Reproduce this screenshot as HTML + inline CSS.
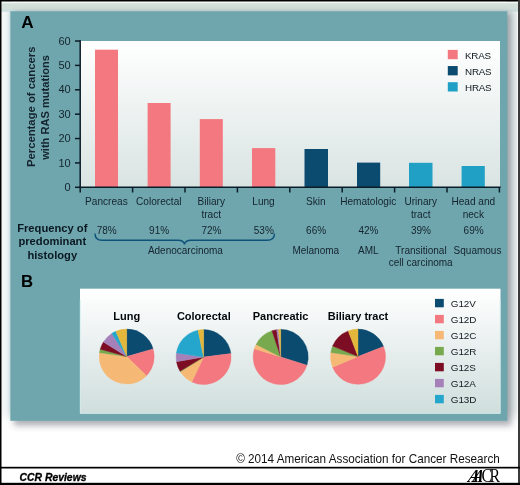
<!DOCTYPE html>
<html><head><meta charset="utf-8"><title>RAS mutations</title>
<style>
html,body{margin:0;padding:0;background:#fff;}
body{width:520px;height:485px;position:relative;overflow:hidden;}
#frame{position:absolute;left:0;top:0;width:520px;height:485px;box-sizing:border-box;border-style:solid;border-color:#000 #333 #000 #000;border-width:1.5px 1.9px 2.3px 1.5px;background:#fff;}
#topstrip{position:absolute;left:2px;top:2.5px;width:516px;height:9px;background:#d4e1da;}
#panel{position:absolute;left:10.3px;top:11.2px;width:497px;height:409.7px;background:#6fa6ae;box-shadow:2.5px 3px 7px rgba(40,50,60,0.55);}
#rule{position:absolute;left:0;top:466.7px;width:520px;height:1.8px;background:#000;}
</style></head><body>
<svg width="520" height="485" viewBox="0 0 520 485" style="position:absolute;left:0;top:0">
<defs>
<linearGradient id="pg" x1="0" y1="0" x2="0" y2="1"><stop offset="0" stop-color="#ffffff"/><stop offset="1" stop-color="#d9e4e2"/></linearGradient>
<linearGradient id="pg2" x1="0" y1="0" x2="0" y2="1"><stop offset="0" stop-color="#ffffff"/><stop offset="1" stop-color="#cfdedc"/></linearGradient>
<linearGradient id="rt" x1="0" y1="0" x2="1" y2="0"><stop offset="0" stop-color="#dde5e3"/><stop offset="0.85" stop-color="#e6edeb"/><stop offset="1" stop-color="#ffffff"/></linearGradient>
<linearGradient id="lt" x1="0" y1="0" x2="1" y2="0"><stop offset="0" stop-color="#f4f7f7"/><stop offset="0.6" stop-color="#eef3f3"/><stop offset="1" stop-color="#cfe4e7"/></linearGradient>
<filter id="blur" x="-5%" y="-5%" width="110%" height="110%"><feGaussianBlur stdDeviation="3.4"/></filter>
<filter id="blury" x="-5%" y="-5%" width="110%" height="110%"><feGaussianBlur stdDeviation="0 4"/></filter>
</defs>
<rect x="0" y="0" width="520" height="485" fill="#fff"/>
<rect x="507" y="-10" width="11" height="426" fill="url(#rt)" filter="url(#blury)"/>
<rect x="1.5" y="-10" width="9" height="427" fill="url(#lt)" filter="url(#blury)"/>
<rect x="1.5" y="2.6" width="516.5" height="8.8" fill="#d4e1da"/>
<rect x="1.5" y="2" width="516.5" height="1.2" fill="#f4f8f6"/>
<rect x="1.5" y="9.6" width="516.5" height="1.8" fill="#cbdee0"/>
<rect x="14" y="12.5" width="497.5" height="413" fill="#464b5c" fill-opacity="0.45" filter="url(#blur)"/>
<rect x="10.3" y="11.2" width="497" height="409.6" fill="#6fa6ae"/>
<rect x="0" y="0" width="1.5" height="485" fill="#000"/>
<rect x="0" y="0" width="520" height="1.5" fill="#000"/>
<rect x="518" y="0" width="2" height="485" fill="#3a3a3a"/>
<rect x="0" y="482.8" width="520" height="2.2" fill="#000"/>
<rect x="0" y="466.8" width="520" height="1.7" fill="#000"/>
<rect x="80" y="41" width="420" height="146.5" fill="url(#pg)"/>
<rect x="95" y="49.7" width="23" height="137.3" fill="#f3787f"/>
<rect x="147.6" y="103" width="23.0" height="84" fill="#f3787f"/>
<rect x="199.8" y="119.1" width="23.0" height="67.9" fill="#f3787f"/>
<rect x="252" y="148.1" width="23.30000000000001" height="38.900000000000006" fill="#f3787f"/>
<rect x="304.5" y="149" width="23.5" height="38" fill="#0c4b70"/>
<rect x="357" y="162.6" width="23.19999999999999" height="24.400000000000006" fill="#0c4b70"/>
<rect x="409" y="162.8" width="23.5" height="24.19999999999999" fill="#21a0c6"/>
<rect x="461.6" y="166" width="23.19999999999999" height="21" fill="#21a0c6"/>
<g stroke="#0a1c28" stroke-width="1.5" fill="none">
<path d="M80.2,40.3 V192.5"/>
<path d="M79.5,187.3 H500.7"/>
<path d="M75,187.30 H80.2"/>
<path d="M75,162.92 H80.2"/>
<path d="M75,138.54 H80.2"/>
<path d="M75,114.16 H80.2"/>
<path d="M75,89.78 H80.2"/>
<path d="M75,65.40 H80.2"/>
<path d="M75,41.02 H80.2"/>
<path d="M132.60,187.3 V192.5"/>
<path d="M185.00,187.3 V192.5"/>
<path d="M237.40,187.3 V192.5"/>
<path d="M289.80,187.3 V192.5"/>
<path d="M342.20,187.3 V192.5"/>
<path d="M394.60,187.3 V192.5"/>
<path d="M447.00,187.3 V192.5"/>
<path d="M499.40,187.3 V192.5"/>
</g>
<g font-family="Liberation Sans, Arial, sans-serif" fill="#14232e">
<text x="21.2" y="27.7" font-size="17.2" font-weight="bold" fill="#000">A</text>
<text x="21.0" y="286.8" font-size="16.8" font-weight="bold" fill="#000">B</text>
<text x="70.7" y="191.00" font-size="11" text-anchor="end">0</text>
<text x="70.7" y="166.62" font-size="11" text-anchor="end">10</text>
<text x="70.7" y="142.24" font-size="11" text-anchor="end">20</text>
<text x="70.7" y="117.86" font-size="11" text-anchor="end">30</text>
<text x="70.7" y="93.48" font-size="11" text-anchor="end">40</text>
<text x="70.7" y="69.10" font-size="11" text-anchor="end">50</text>
<text x="70.7" y="44.72" font-size="11" text-anchor="end">60</text>
<text transform="translate(35.1,106.8) rotate(-90)" font-size="11.3" font-weight="bold" text-anchor="middle">Percentage of cancers</text>
<text transform="translate(49.3,107.4) rotate(-90)" font-size="11.1" font-weight="bold" text-anchor="middle">with RAS mutations</text>
<text x="106.4" y="205.1" font-size="10.1" text-anchor="middle">Pancreas</text>
<text x="158.8" y="205.1" font-size="10.1" text-anchor="middle">Colorectal</text>
<text x="211.2" y="205.1" font-size="10.1" text-anchor="middle">Biliary</text>
<text x="211.2" y="217.8" font-size="10.1" text-anchor="middle">tract</text>
<text x="263.5" y="205.1" font-size="10.1" text-anchor="middle">Lung</text>
<text x="315.8" y="205.1" font-size="10.1" text-anchor="middle">Skin</text>
<text x="368.2" y="205.1" font-size="10.1" text-anchor="middle">Hematologic</text>
<text x="420.7" y="205.1" font-size="10.1" text-anchor="middle">Urinary</text>
<text x="420.7" y="217.8" font-size="10.1" text-anchor="middle">tract</text>
<text x="473.3" y="205.1" font-size="10.1" text-anchor="middle">Head and</text>
<text x="473.3" y="217.8" font-size="10.1" text-anchor="middle">neck</text>
<text x="106.7" y="233.5" font-size="10" text-anchor="middle">78%</text>
<text x="159.10000000000002" y="233.5" font-size="10" text-anchor="middle">91%</text>
<text x="211.5" y="233.5" font-size="10" text-anchor="middle">72%</text>
<text x="263.8" y="233.5" font-size="10" text-anchor="middle">53%</text>
<text x="316.1" y="233.5" font-size="10" text-anchor="middle">66%</text>
<text x="368.5" y="233.5" font-size="10" text-anchor="middle">42%</text>
<text x="421.0" y="233.5" font-size="10" text-anchor="middle">39%</text>
<text x="473.6" y="233.5" font-size="10" text-anchor="middle">69%</text>
<text x="185.4" y="254.2" font-size="10" text-anchor="middle">Adenocarcinoma</text>
<text x="315.8" y="254.2" font-size="10" text-anchor="middle">Melanoma</text>
<text x="368.4" y="254.2" font-size="10" text-anchor="middle">AML</text>
<text x="421" y="254.2" font-size="10" text-anchor="middle">Transitional</text>
<text x="420.7" y="266.3" font-size="10" text-anchor="middle">cell carcinoma</text>
<text x="477.5" y="254.2" font-size="10" text-anchor="middle">Squamous</text>
<text x="52.3" y="231.9" font-size="11.2" font-weight="bold" text-anchor="middle" fill="#0b1821">Frequency of</text>
<text x="52.3" y="245.4" font-size="11.2" font-weight="bold" text-anchor="middle" fill="#0b1821">predominant</text>
<text x="52.3" y="258.9" font-size="11.2" font-weight="bold" text-anchor="middle" fill="#0b1821">histology</text>
<rect x="447.8" y="49.90" width="9.9" height="9.3" fill="#f3787f"/>
<text x="465" y="58.60" font-size="9.8" letter-spacing="-0.2" fill="#10191f">KRAS</text>
<rect x="447.8" y="66.05" width="9.9" height="9.3" fill="#0c4b70"/>
<text x="465" y="74.75" font-size="9.8" letter-spacing="-0.2" fill="#10191f">NRAS</text>
<rect x="447.8" y="82.20" width="9.9" height="9.3" fill="#21a0c6"/>
<text x="465" y="90.90" font-size="9.8" letter-spacing="-0.2" fill="#10191f">HRAS</text>
</g>
<path d="M95,233.5 C95,238 97,240.3 102,240.3 H178 C182,240.3 184,241 184.5,244.5 C185,241 187,240.3 191,240.3 H267 C272,240.3 274.5,238 274.5,233.5" fill="none" stroke="#0e527a" stroke-width="1.4"/>
<rect x="80" y="288.7" width="420.5" height="125" fill="url(#pg2)"/>
<path d="M80.3,300 V413.3 H500.1 V300" fill="none" stroke="#d3ecec" stroke-width="0.8"/>
<path d="M126.70,356.60 L126.70,329.10 A27.5,27.5 0 0 1 153.09,348.88 Z" fill="#0c4b70" stroke="#0c4b70" stroke-width="0.4"/>
<path d="M126.70,356.60 L153.09,348.88 A27.5,27.5 0 0 1 146.48,375.70 Z" fill="#f3787f" stroke="#f3787f" stroke-width="0.4"/>
<path d="M126.70,356.60 L146.48,375.70 A27.5,27.5 0 0 1 99.48,352.68 Z" fill="#f5b975" stroke="#f5b975" stroke-width="0.4"/>
<path d="M126.70,356.60 L99.48,352.68 A27.5,27.5 0 0 1 100.20,349.25 Z" fill="#79a94f" stroke="#79a94f" stroke-width="0.4"/>
<path d="M126.70,356.60 L100.20,349.25 A27.5,27.5 0 0 1 103.38,342.03 Z" fill="#7c0d22" stroke="#7c0d22" stroke-width="0.4"/>
<path d="M126.70,356.60 L103.38,342.03 A27.5,27.5 0 0 1 111.72,333.54 Z" fill="#a680b9" stroke="#a680b9" stroke-width="0.4"/>
<path d="M126.70,356.60 L111.72,333.54 A27.5,27.5 0 0 1 115.82,331.34 Z" fill="#25a7cd" stroke="#25a7cd" stroke-width="0.4"/>
<path d="M126.70,356.60 L115.82,331.34 A27.5,27.5 0 0 1 126.70,329.10 Z" fill="#e2b73b" stroke="#e2b73b" stroke-width="0.4"/>
<path d="M203.60,357.10 L203.60,329.60 A27.5,27.5 0 0 1 230.88,353.61 Z" fill="#0c4b70" stroke="#0c4b70" stroke-width="0.4"/>
<path d="M203.60,357.10 L230.88,353.61 A27.5,27.5 0 0 1 191.80,381.94 Z" fill="#f3787f" stroke="#f3787f" stroke-width="0.4"/>
<path d="M203.60,357.10 L191.80,381.94 A27.5,27.5 0 0 1 180.36,371.79 Z" fill="#f5b975" stroke="#f5b975" stroke-width="0.4"/>
<path d="M203.60,357.10 L180.36,371.79 A27.5,27.5 0 0 1 179.98,371.18 Z" fill="#79a94f" stroke="#79a94f" stroke-width="0.4"/>
<path d="M203.60,357.10 L179.98,371.18 A27.5,27.5 0 0 1 176.48,361.64 Z" fill="#7c0d22" stroke="#7c0d22" stroke-width="0.4"/>
<path d="M203.60,357.10 L176.48,361.64 A27.5,27.5 0 0 1 176.41,352.99 Z" fill="#a680b9" stroke="#a680b9" stroke-width="0.4"/>
<path d="M203.60,357.10 L176.41,352.99 A27.5,27.5 0 0 1 198.02,330.17 Z" fill="#25a7cd" stroke="#25a7cd" stroke-width="0.4"/>
<path d="M203.60,357.10 L198.02,330.17 A27.5,27.5 0 0 1 203.60,329.60 Z" fill="#e2b73b" stroke="#e2b73b" stroke-width="0.4"/>
<path d="M280.70,356.90 L280.70,329.35 A27.55,27.55 0 0 1 306.95,365.28 Z" fill="#0c4b70" stroke="#0c4b70" stroke-width="0.4"/>
<path d="M280.70,356.90 L306.95,365.28 A27.55,27.55 0 0 1 254.35,348.85 Z" fill="#f3787f" stroke="#f3787f" stroke-width="0.4"/>
<path d="M280.70,356.90 L254.35,348.85 A27.55,27.55 0 0 1 256.15,344.39 Z" fill="#f5b975" stroke="#f5b975" stroke-width="0.4"/>
<path d="M280.70,356.90 L256.15,344.39 A27.55,27.55 0 0 1 271.96,330.77 Z" fill="#79a94f" stroke="#79a94f" stroke-width="0.4"/>
<path d="M280.70,356.90 L271.96,330.77 A27.55,27.55 0 0 1 276.58,329.66 Z" fill="#7c0d22" stroke="#7c0d22" stroke-width="0.4"/>
<path d="M280.70,356.90 L276.58,329.66 A27.55,27.55 0 0 1 278.54,329.43 Z" fill="#a680b9" stroke="#a680b9" stroke-width="0.4"/>
<path d="M280.70,356.90 L278.54,329.43 A27.55,27.55 0 0 1 280.70,329.35 Z" fill="#e2b73b" stroke="#e2b73b" stroke-width="0.4"/>
<path d="M358.00,356.60 L358.00,329.10 A27.5,27.5 0 0 1 383.59,346.52 Z" fill="#0c4b70" stroke="#0c4b70" stroke-width="0.4"/>
<path d="M358.00,356.60 L383.59,346.52 A27.5,27.5 0 0 1 332.61,367.17 Z" fill="#f3787f" stroke="#f3787f" stroke-width="0.4"/>
<path d="M358.00,356.60 L332.61,367.17 A27.5,27.5 0 0 1 330.80,352.54 Z" fill="#f5b975" stroke="#f5b975" stroke-width="0.4"/>
<path d="M358.00,356.60 L330.80,352.54 A27.5,27.5 0 0 1 332.59,346.08 Z" fill="#79a94f" stroke="#79a94f" stroke-width="0.4"/>
<path d="M358.00,356.60 L332.59,346.08 A27.5,27.5 0 0 1 348.23,330.89 Z" fill="#7c0d22" stroke="#7c0d22" stroke-width="0.4"/>
<path d="M358.00,356.60 L348.23,330.89 A27.5,27.5 0 0 1 358.00,329.10 Z" fill="#e2b73b" stroke="#e2b73b" stroke-width="0.4"/>
<g font-family="Liberation Sans, Arial, sans-serif" fill="#04080b">
<text x="126.7" y="319.7" font-size="11" font-weight="bold" text-anchor="middle">Lung</text>
<text x="203.8" y="319.7" font-size="11" font-weight="bold" text-anchor="middle">Colorectal</text>
<text x="280.6" y="319.7" font-size="11" font-weight="bold" text-anchor="middle">Pancreatic</text>
<text x="358" y="319.7" font-size="11" font-weight="bold" text-anchor="middle">Biliary tract</text>
<rect x="435" y="298.90" width="8.8" height="8.4" fill="#0c4b70"/>
<text x="450.8" y="307.10" font-size="9.9" fill="#10191f" letter-spacing="-0.1">G12V</text>
<rect x="435" y="314.90" width="8.8" height="8.4" fill="#f3787f"/>
<text x="450.8" y="323.10" font-size="9.9" fill="#10191f" letter-spacing="-0.1">G12D</text>
<rect x="435" y="330.90" width="8.8" height="8.4" fill="#f5b975"/>
<text x="450.8" y="339.10" font-size="9.9" fill="#10191f" letter-spacing="-0.1">G12C</text>
<rect x="435" y="346.90" width="8.8" height="8.4" fill="#79a94f"/>
<text x="450.8" y="355.10" font-size="9.9" fill="#10191f" letter-spacing="-0.1">G12R</text>
<rect x="435" y="362.90" width="8.8" height="8.4" fill="#7c0d22"/>
<text x="450.8" y="371.10" font-size="9.9" fill="#10191f" letter-spacing="-0.1">G12S</text>
<rect x="435" y="378.90" width="8.8" height="8.4" fill="#a680b9"/>
<text x="450.8" y="387.10" font-size="9.9" fill="#10191f" letter-spacing="-0.1">G12A</text>
<rect x="435" y="394.90" width="8.8" height="8.4" fill="#25a7cd"/>
<text x="450.8" y="403.10" font-size="9.9" fill="#10191f" letter-spacing="-0.1">G13D</text>
</g>
<g font-family="Liberation Sans, Arial, sans-serif" fill="#111">
<text transform="translate(236.2,462.6) scale(0.945,1)" font-size="12.4">© 2014 American Association for Cancer Research</text>
<text x="19.5" y="481" font-size="10.4" font-weight="bold" font-style="italic" fill="#000" stroke="#000" stroke-width="0.3">CCR Reviews</text>
</g>
<g font-family="Liberation Serif, serif" fill="#000"><text transform="translate(467.4,481.6) scale(0.86,1) skewX(-16)" x="0" y="0" font-size="18.4" font-style="italic" font-weight="bold" letter-spacing="-6.8">AA</text><text transform="translate(481.6,481.6) scale(0.86,1)" x="0" y="0" font-size="18.4" letter-spacing="-3.2">CR</text></g>
</svg>
</body></html>
